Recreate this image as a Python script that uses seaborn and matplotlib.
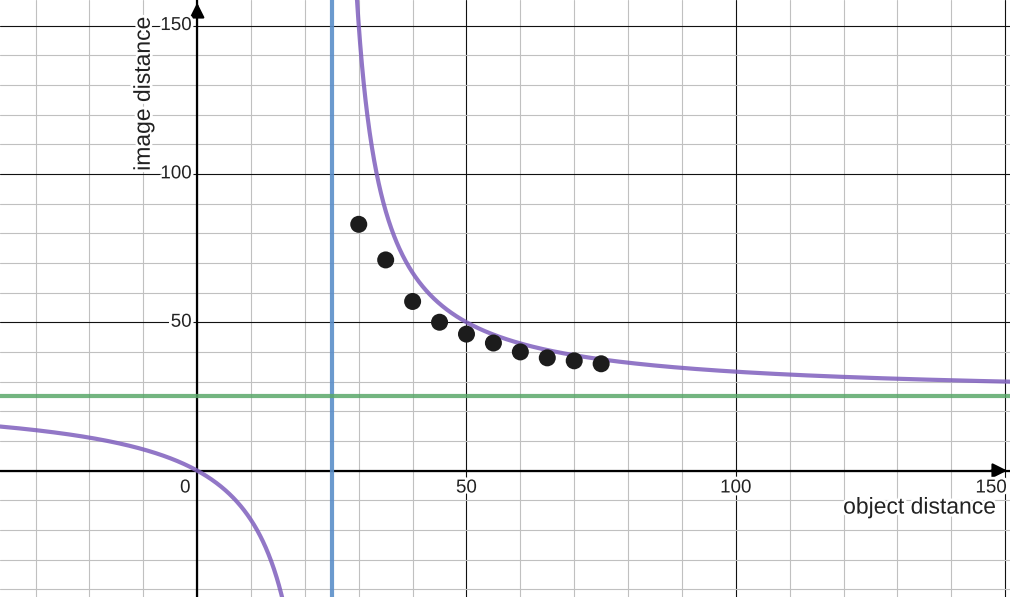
import numpy as np
import pandas as pd
import seaborn as sns
import matplotlib.pyplot as plt
import matplotlib.patheffects as pe
from matplotlib.ticker import MultipleLocator

# measured points (object distance, image distance)
object_dist = [30, 35, 40, 45, 50, 55, 60, 65, 70, 75]
image_dist = [83, 71, 57, 50, 46, 43, 40, 38, 37, 36]
focal = 25

x_lim = (-36.6, 150.9)
y_lim = (-42.6, 158.6)

sns.set_style('white')
plt.rcParams['font.family'] = ['Liberation Sans', 'DejaVu Sans']

fig = plt.figure(figsize=(10.1, 5.97), dpi=100)
ax = fig.add_axes([0, 0, 1, 1])

# thin lens curve 1/f = 1/do + 1/di
left = np.linspace(x_lim[0], focal - 0.05, 600)
right = np.linspace(focal + 0.05, x_lim[1], 1500)
for xs in (left, right):
    curve = pd.DataFrame({'do': xs, 'di': focal * xs / (xs - focal)})
    sns.lineplot(data=curve, x='do', y='di', ax=ax, color='#7f5fbd', alpha=0.85,
                 linewidth=3, sort=False, zorder=4)

ax.axvline(focal, color='#5b8fc9', alpha=0.9, linewidth=3, zorder=3)
ax.axhline(focal, color='#5aa86a', alpha=0.85, linewidth=3, zorder=3)

pts = pd.DataFrame({'do': object_dist, 'di': image_dist})
sns.scatterplot(data=pts, x='do', y='di', ax=ax, color='#1c1c1c', s=150,
                edgecolor='none', zorder=5)

ax.set_xlim(*x_lim)
ax.set_ylim(*y_lim)

# grid
ax.xaxis.set_major_locator(MultipleLocator(50))
ax.yaxis.set_major_locator(MultipleLocator(50))
ax.xaxis.set_minor_locator(MultipleLocator(10))
ax.yaxis.set_minor_locator(MultipleLocator(10))
ax.grid(which='major', color='#111111', linewidth=0.8, zorder=0)
ax.grid(which='minor', color='#c0c0c0', linewidth=0.8, zorder=0)
ax.set_axisbelow(True)
ax.tick_params(which='both', length=0, labelbottom=False, labelleft=False)
for s in ax.spines.values():
    s.set_visible(False)
ax.set_xlabel('')
ax.set_ylabel('')

# axes with arrows
ax.axhline(0, color='black', linewidth=1.6, zorder=2)
ax.axvline(0, color='black', linewidth=1.6, zorder=2)
ax.annotate('', xy=(0, y_lim[1]), xytext=(0, y_lim[1] - 6),
            arrowprops=dict(arrowstyle='-|>', color='black', mutation_scale=22, lw=1.6),
            annotation_clip=False, zorder=6)
ax.annotate('', xy=(x_lim[1], 0), xytext=(x_lim[1] - 4, 0),
            arrowprops=dict(arrowstyle='-|>', color='black', mutation_scale=22, lw=1.6),
            annotation_clip=False, zorder=6)

halo = [pe.withStroke(linewidth=4, foreground='white')]
tick_font = dict(fontsize=13.5, color='#222222', path_effects=halo, zorder=7)
for v in [50, 100, 150]:
    xpos = 147.4 if v == 150 else v
    ax.text(xpos, -3, str(v), ha='center', va='top', **tick_font)
    ax.text(-1, v, str(v), ha='right', va='center', **tick_font)
ax.text(-2.2, -3, '0', ha='center', va='top', **tick_font)

ax.text(-10, 127, 'image distance', rotation=90, ha='center', va='center',
        fontsize=16.5, color='#222222', path_effects=halo, zorder=7)
ax.text(148.3, -12.3, 'object distance', ha='right', va='center',
        fontsize=16.5, color='#222222', path_effects=halo, zorder=7)

fig.savefig('out.png', dpi=100)
